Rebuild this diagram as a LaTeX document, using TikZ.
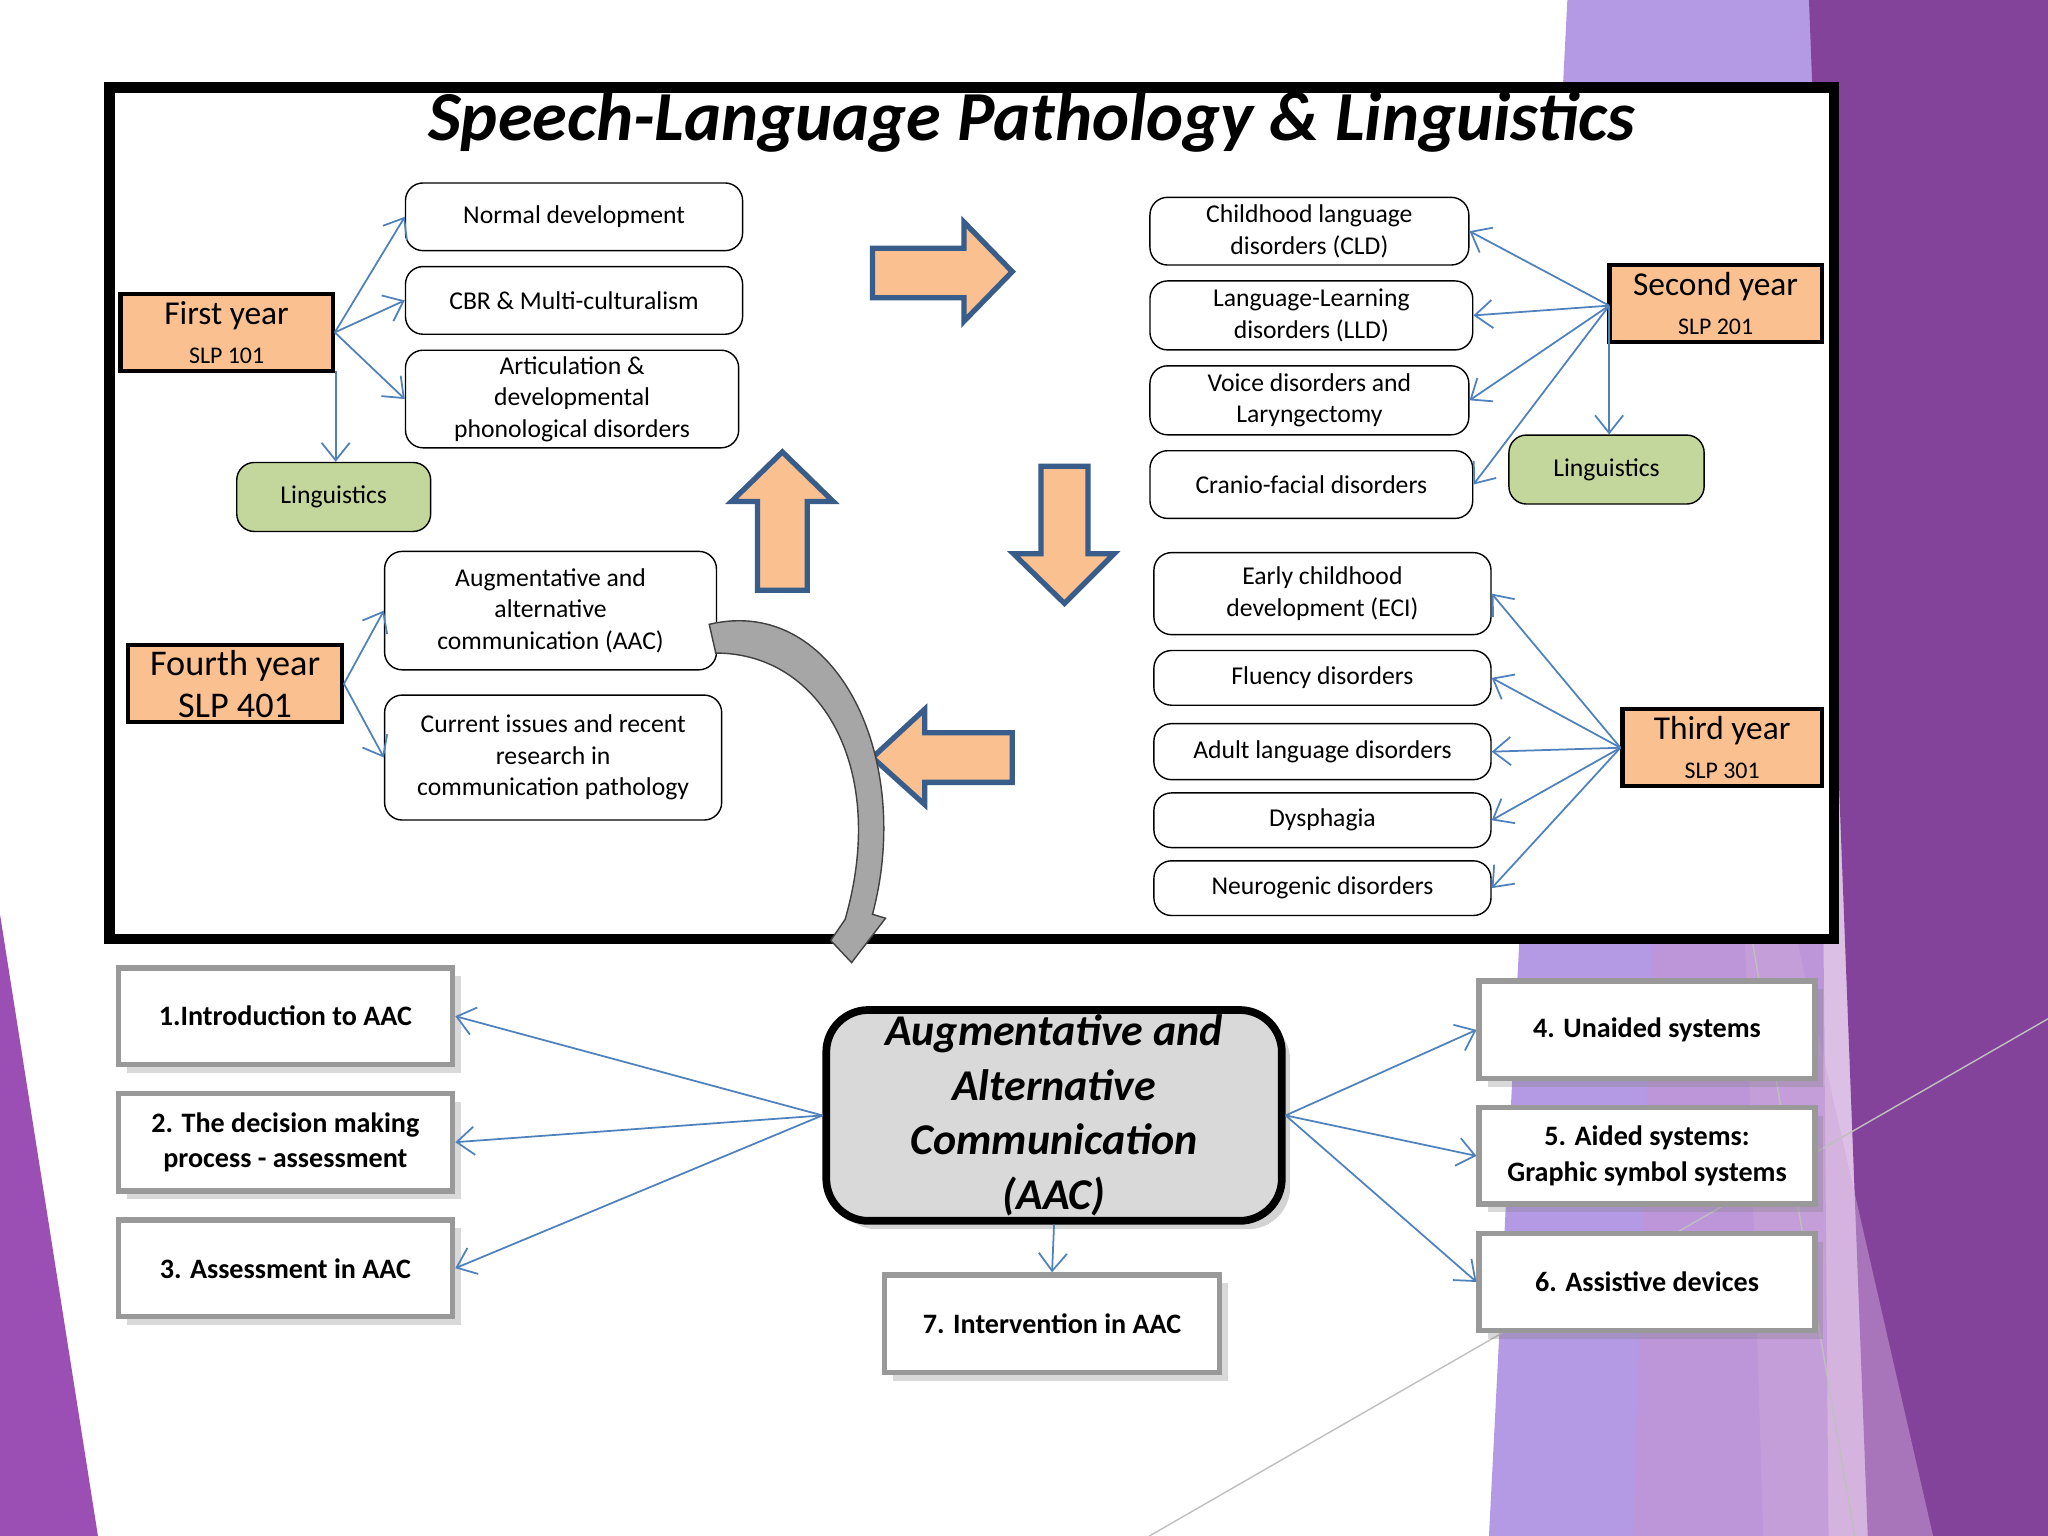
\documentclass[tikz,border=0pt]{standalone}
\usepackage{fontspec}
\setmainfont{Carlito}
\usetikzlibrary{arrows.meta,shadows}
\definecolor{org}{HTML}{FAC090}
\definecolor{grn}{HTML}{C3D69B}
\definecolor{blu}{HTML}{4F81BD}
\definecolor{dblu}{HTML}{385D8A}
\definecolor{pur}{HTML}{9B4FB5}
\begin{document}
\begin{tikzpicture}[x=0.0130612cm,y=-0.0130612cm,
 sz/.style 2 args={minimum width=#1*0.37033pt,minimum height=#2*0.37033pt},
 box/.style={draw,rounded corners=5pt,fill=white,align=center,inner sep=0pt,font=\fontsize{7.3}{9}\selectfont},
 yr/.style={draw,line width=1.2pt,fill=org,align=center,inner sep=0pt},
 ling/.style={draw,rounded corners=5pt,fill=grn,inner sep=0pt,font=\fontsize{7.3}{9}\selectfont},
 bb/.style={draw=gray!80,line width=1.5pt,fill=white,align=center,inner sep=0pt,font=\bfseries\fontsize{8}{10}\selectfont,drop shadow={opacity=0.3}},
 con/.style={draw=blu,line width=0.5pt,-{Straight Barb[length=5pt,width=8pt]}},
 blk/.style={fill=org,draw=dblu,line width=1.5pt,line join=miter}]
\useasboundingbox (0,0) rectangle (1568,1176);
% background
\fill[pur!70!blue!60,opacity=0.85] (1200,0)--(1390,0)--(1400,1176)--(1140,1176)--cycle;
\fill[pur!60,opacity=0.6] (1280,300)--(1568,800)--(1568,1176)--(1250,1176)--cycle;
\fill[pur!85!black] (1385,0)--(1568,0)--(1568,1176)--(1430,1176)--cycle;
\fill[pur!50,opacity=0.5] (1330,520)--(1480,1176)--(1350,1176)--cycle;
\fill[pur] (0,700)--(0,1176)--(75,1176)--cycle;
\draw[gray!50,line width=0.4pt] (1240,130)--(1420,1176);
\draw[gray!50,line width=0.4pt] (880,1176)--(1568,780);
% frame
\draw[line width=3pt,fill=white] (84,67) rectangle (1404,719);
\node at (790,93) {\bfseries\itshape\fontsize{20}{24}\selectfont Speech-Language Pathology \& Linguistics};
% left top
\node[yr,sz={163}{59}] (y1) at (173.5,254.5) {\fontsize{9.5}{11}\selectfont First year\\[-1pt]\fontsize{6.8}{8}\selectfont SLP 101};
\node[box,sz={259}{52}] (n1) at (439.5,166) {Normal development};
\node[box,sz={259}{52}] (n2) at (439.5,230) {CBR \& Multi-culturalism};
\node[box,sz={256}{75}] (n3) at (438,305.5) {Articulation \&\\developmental\\phonological disorders};
\node[ling,sz={149}{53}] (l1) at (255.5,380.5) {Linguistics};
\draw[con] (y1.east) -- (n1.west);
\draw[con] (y1.east) -- (n2.west);
\draw[con] (y1.east) -- (n3.west);
\draw[con] (257,284) -- (l1.north-|257,0);
% right top
\node[yr,sz={163}{59}] (y2) at (1313.5,232.5) {\fontsize{9.5}{11}\selectfont Second year\\[-1pt]\fontsize{6.8}{8}\selectfont SLP 201};
\node[box,sz={245}{52}] (r1) at (1002.5,177) {Childhood language\\disorders (CLD)};
\node[box,sz={248}{53}] (r2) at (1004,241.5) {Language-Learning\\disorders (LLD)};
\node[box,sz={245}{53}] (r3) at (1002.5,306.5) {Voice disorders and\\Laryngectomy};
\node[box,sz={248}{52}] (r4) at (1004,371) {Cranio-facial disorders};
\node[ling,sz={150}{53}] (l2) at (1230,359.5) {Linguistics};
\coordinate (s2) at (1232,234);
\foreach \t in {r1,r2,r3,r4} \draw[con] (s2) -- (\t.east);
\draw[con] (s2) -- (l2.north-|1232,0);
% third year
\node[yr,sz={153}{59}] (y3) at (1318.5,572.5) {\fontsize{9.5}{11}\selectfont Third year\\[-1pt]\fontsize{6.8}{8}\selectfont SLP 301};
\node[box,sz={259}{63}] (t1) at (1012.5,454.5) {Early childhood\\development (ECI)};
\node[box,sz={259}{42}] (t2) at (1012.5,519) {Fluency disorders};
\node[box,sz={259}{43}] (t3) at (1012.5,575.5) {Adult language disorders};
\node[box,sz={259}{42}] (t4) at (1012.5,628) {Dysphagia};
\node[box,sz={259}{42}] (t5) at (1012.5,680) {Neurogenic disorders};
\foreach \t in {t1,t2,t3,t4,t5} \draw[con] (y3.west) -- (\t.east);
% fourth year
\node[yr,sz={164}{59}] (y4) at (180,523.5) {\fontsize{10.3}{12.5}\selectfont Fourth year\\\fontsize{10.3}{12.5}\selectfont SLP 401};
\node[box,sz={255}{91}] (f1) at (421.5,467.5) {Augmentative and\\alternative\\communication (AAC)};
\node[box,sz={259}{96}] (f2) at (423.5,580) {Current issues and recent\\research in\\communication pathology};
\draw[con] (y4.east) -- (f1.west);
\draw[con] (y4.east) -- (f2.west);
% block arrows
\draw[blk] (668,190)--(738,190)--(738,170)--(775,208)--(738,246)--(738,228)--(668,228)--cycle;
\draw[blk] (580,452)--(580,384)--(560,384)--(599,346)--(638,384)--(618,384)--(618,452)--cycle;
\draw[blk] (797,357)--(833,357)--(833,424)--(853,424)--(815,462)--(776,424)--(797,424)--cycle;
\draw[blk] (775,561)--(708,561)--(708,543)--(668,580)--(708,616)--(708,599)--(775,599)--cycle;
% curved arrow
\fill[gray!70,draw=gray!50!black,line width=0.4pt] (543,478) .. controls (640,455) and (700,580) .. (668,700)
 -- (678,703) -- (652,737) -- (636,720) -- (647,704)
 .. controls (680,590) and (630,500) .. (548,500) -- cycle;
% bottom
\node[draw,line width=2.2pt,rounded corners=12pt,fill=gray!30,sz={350}{162},align=center,inner sep=0pt,drop shadow={opacity=0.35},font=\bfseries\itshape\fontsize{12.5}{15.5}\selectfont] (c) at (807,854) {Augmentative and\\Alternative\\Communication\\(AAC)};
\node[bb,sz={257}{74}] (b1) at (218.5,778) {1.Introduction to AAC};
\node[bb,sz={257}{75}] (b2) at (218.5,874.5) {2. The decision making\\process - assessment};
\node[bb,sz={257}{74}] (b3) at (218.5,971) {3. Assessment in AAC};
\node[bb,sz={258}{75}] (b4) at (1261,788.5) {4. Unaided systems};
\node[bb,sz={258}{74}] (b5) at (1261,885) {5. Aided systems:\\Graphic symbol systems};
\node[bb,sz={258}{75}] (b6) at (1261,981.5) {6. Assistive devices};
\node[bb,sz={257}{75}] (b7) at (805.5,1013.5) {7. Intervention in AAC};
\foreach \t in {b1,b2,b3} \draw[con] (c.west) -- (\t.east);
\foreach \t in {b4,b5,b6} \draw[con] (c.east) -- (\t.west);
\draw[con] (c.south) -- (b7.north);
\end{tikzpicture}
\end{document}
